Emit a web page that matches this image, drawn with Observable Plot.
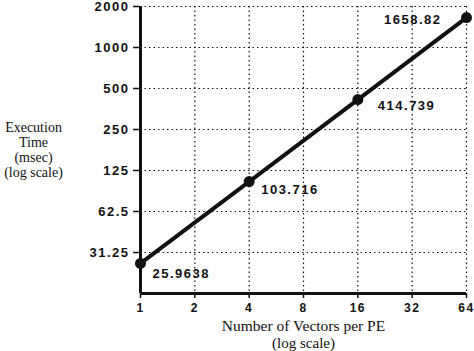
<!DOCTYPE html>
<html>
<head>
<meta charset="utf-8">
<script src="https://cdn.jsdelivr.net/npm/d3@7"></script>
<script src="https://cdn.jsdelivr.net/npm/@observablehq/plot@0.6"></script>
<style>
  html, body { margin: 0; padding: 0; background: #fff; }
  #chart svg { display: block; }
</style>
</head>
<body>
<div id="chart"></div>
<script>
const vectors = [1, 4, 16, 64];
const times = [25.9638, 103.716, 414.739, 1658.82];
const labels = ["25.9638", "103.716", "414.739", "1658.82"];
const xTicks = [1, 2, 4, 8, 16, 32, 64];
const yTicks = [31.25, 62.5, 125, 250, 500, 1000, 2000];

const data = vectors.map((v, i) => ({x: v, y: times[i], label: labels[i]}));

const tickFont = "'Liberation Sans', Arial, sans-serif";
const serif = "'Liberation Serif', 'Times New Roman', serif";

const labelOffsets = [[12, 10], [12, 8], [20, 6], [-25, 2]];

const labelMarks = data.map((d, i) => Plot.text([d], {
  x: "x", y: "y", text: "label",
  dx: labelOffsets[i][0], dy: labelOffsets[i][1],
  textAnchor: i === 3 ? "end" : "start",
  fontSize: 13, fontWeight: "bold", fill: "#111",
  fontFamily: tickFont
}));

const chart = Plot.plot({
  width: 474,
  height: 351,
  marginLeft: 140,
  marginRight: 8,
  marginTop: 6,
  marginBottom: 58,
  style: {background: "#fff", color: "#111"},
  x: {type: "log", domain: [1, 64]},
  y: {type: "log", domain: [15.625, 2000]},
  marks: [
    Plot.gridX(xTicks, {stroke: "#111", strokeOpacity: 1, strokeWidth: 1.2, strokeDasharray: "1.5,3"}),
    Plot.gridY(yTicks, {stroke: "#111", strokeOpacity: 1, strokeWidth: 1.2, strokeDasharray: "1.5,3"}),
    Plot.axisX({ticks: xTicks, tickFormat: () => "", tickSize: 5, label: null, strokeWidth: 1.5}),
    Plot.axisY({ticks: yTicks, tickFormat: () => "", tickSize: 7, label: null, strokeWidth: 1.5}),
    Plot.text(xTicks, {x: d => d, text: d => String(d), frameAnchor: "bottom", lineAnchor: "middle",
      dy: 15, fontSize: 12, fontWeight: "bold", fontFamily: tickFont, fill: "#111"}),
    Plot.text(yTicks, {y: d => d, text: d => String(d), frameAnchor: "left", textAnchor: "end",
      lineAnchor: "middle", dx: -11, fontSize: 13, fontWeight: "bold", fontFamily: tickFont, fill: "#111"}),
    Plot.ruleX([1], {stroke: "#111", strokeWidth: 3}),
    Plot.ruleY([15.625], {stroke: "#111", strokeWidth: 3}),
    Plot.line(data, {x: "x", y: "y", stroke: "#111", strokeWidth: 4}),
    Plot.dot(data, {x: "x", y: "y", r: 5.5, fill: "#111", stroke: "none"}),
    ...labelMarks,
    Plot.text(["Execution\nTime\n(msec)\n(log scale)"], {
      frameAnchor: "left", dx: -107, textAnchor: "middle", lineAnchor: "middle",
      fontSize: 14, fontFamily: serif, lineHeight: 1.07, fill: "#111"
    }),
    Plot.text(["Number of Vectors per PE"], {
      frameAnchor: "bottom", dy: 33, textAnchor: "middle", lineAnchor: "middle",
      fontSize: 15.5, fontFamily: serif, fill: "#111"
    }),
    Plot.text(["(log scale)"], {
      frameAnchor: "bottom", dy: 50, textAnchor: "middle", lineAnchor: "middle",
      fontSize: 15, fontFamily: serif, fill: "#111"
    })
  ]
});
d3.select(chart).selectAll("g[font-family*='Liberation Sans'] text").style("letter-spacing", "1.5px");
document.getElementById("chart").appendChild(chart);
</script>
</body>
</html>
